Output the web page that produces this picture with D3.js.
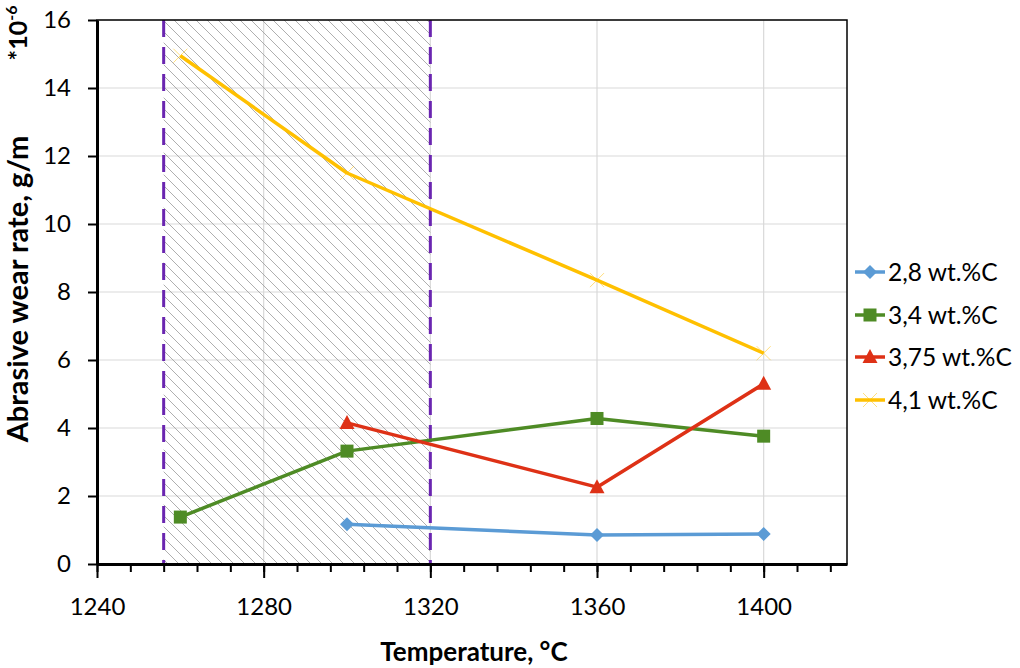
<!DOCTYPE html>
<html>
<head>
<meta charset="utf-8">
<script src="https://cdn.jsdelivr.net/npm/d3@7"></script>
<style>
  body { margin: 0; background: #fff; }
  svg { display: block; font-family: Lato, "Open Sans", sans-serif; }
</style>
</head>
<body>
<div id="chart"></div>
<script>
const SERIES_NAMES = ['2,8 wt.%C', '3,4 wt.%C', '3,75 wt.%C', '4,1 wt.%C'];
const SERIES_COLORS = ['#5B9BD5', '#4E8B25', '#DE3116', '#FFC000'];
const SERIES_MARKERS = ['diamond', 'square', 'triangle', 'cross'];

const temps_28 = [1300, 1360, 1400];
const wear_28 = [1.17, 0.85, 0.88];
const temps_34 = [1260, 1300, 1360, 1400];
const wear_34 = [1.38, 3.32, 4.28, 3.76];
const temps_375 = [1300, 1360, 1400];
const wear_375 = [4.15, 2.26, 5.3];
const temps_41 = [1260, 1300, 1360, 1400];
const wear_41 = [14.95, 11.5, 8.35, 6.2];

const X_TICKS = [1240, 1280, 1320, 1360, 1400];
const Y_TICKS = [0, 2, 4, 6, 8, 10, 12, 14, 16];
const ZONE = [1256, 1320];

const width = 1020;
const height = 668;
const margin = { top: 20, right: 173, bottom: 104, left: 97 };

const seriesData = [
  temps_28.map((t, i) => ({ t, v: wear_28[i] })),
  temps_34.map((t, i) => ({ t, v: wear_34[i] })),
  temps_375.map((t, i) => ({ t, v: wear_375[i] })),
  temps_41.map((t, i) => ({ t, v: wear_41[i] })),
];

const svg = d3.select('#chart').append('svg')
  .attr('width', width).attr('height', height);

const x = d3.scaleLinear().domain([1240, 1420]).range([margin.left, width - margin.right]);
const y = d3.scaleLinear().domain([0, 16]).range([height - margin.bottom, margin.top]);

const defs = svg.append('defs');
const pat = defs.append('pattern')
  .attr('id', 'hatch')
  .attr('patternUnits', 'userSpaceOnUse')
  .attr('width', 11).attr('height', 11);
pat.append('path')
  .attr('d', 'M-2,-2 L13,13 M-2,9 L2,13 M9,-2 L13,2')
  .attr('stroke', '#9a9a9a').attr('stroke-width', 0.8);

// gridlines
svg.append('g').selectAll('line').data(Y_TICKS.slice(1)).join('line')
  .attr('x1', x(1240)).attr('x2', x(1420))
  .attr('y1', (d) => y(d)).attr('y2', (d) => y(d))
  .attr('stroke', '#d9d9d9').attr('stroke-width', 1.2);
svg.append('g').selectAll('line').data(X_TICKS.slice(1)).join('line')
  .attr('x1', (d) => x(d)).attr('x2', (d) => x(d))
  .attr('y1', y(0)).attr('y2', y(16))
  .attr('stroke', '#d9d9d9').attr('stroke-width', 1.2);

// hatched zone
svg.append('rect')
  .attr('x', x(ZONE[0])).attr('y', y(16))
  .attr('width', x(ZONE[1]) - x(ZONE[0]))
  .attr('height', y(0) - y(16))
  .attr('fill', 'url(#hatch)');

ZONE.forEach((z) => {
  svg.append('line')
    .attr('x1', x(z)).attr('x2', x(z))
    .attr('y1', y(16)).attr('y2', y(0))
    .attr('stroke', '#6A25B0').attr('stroke-width', 3)
    .attr('stroke-dasharray', '17,10');
});

// frame
svg.append('rect')
  .attr('x', x(1240)).attr('y', y(16))
  .attr('width', x(1420) - x(1240)).attr('height', y(0) - y(16))
  .attr('fill', 'none').attr('stroke', '#000').attr('stroke-width', 1.5);

// axes
const xMinor = d3.range(1240, 1421, 8);
svg.append('g').attr('transform', `translate(0,${y(0)})`)
  .call(d3.axisBottom(x).tickValues(xMinor).tickSize(8).tickFormat(''))
  .call((g) => g.select('.domain').remove())
  .call((g) => g.selectAll('line').attr('stroke-width', 2));
const xAxis = svg.append('g').attr('transform', `translate(0,${y(0)})`)
  .call(d3.axisBottom(x).tickValues(X_TICKS).tickSize(14).tickPadding(20)
    .tickSizeOuter(0).tickFormat(d3.format('d')));
xAxis.select('.domain').attr('stroke-width', 3);
xAxis.selectAll('line').attr('stroke-width', 2);
xAxis.selectAll('text').attr('font-size', 24).attr('fill', '#000').attr('font-family', 'Lato, sans-serif');

const yAxis = svg.append('g').attr('transform', `translate(${x(1240)},0)`)
  .call(d3.axisLeft(y).tickValues(Y_TICKS).tickSize(9).tickPadding(17).tickSizeOuter(0));
yAxis.select('.domain').attr('stroke-width', 3);
yAxis.selectAll('line').attr('stroke-width', 2);
yAxis.selectAll('text').attr('font-size', 24).attr('fill', '#000').attr('font-family', 'Lato, sans-serif');

// series
const line = d3.line().x((d) => x(d.t)).y((d) => y(d.v));

function marker(g, type, color, cx, cy) {
  if (type === 'diamond') {
    g.append('path').attr('d', `M${cx},${cy - 7}L${cx + 7},${cy}L${cx},${cy + 7}L${cx - 7},${cy}Z`)
      .attr('fill', color);
  } else if (type === 'square') {
    g.append('rect').attr('x', cx - 6.5).attr('y', cy - 6.5).attr('width', 13).attr('height', 13)
      .attr('fill', color);
  } else if (type === 'triangle') {
    g.append('path').attr('d', `M${cx},${cy - 8}L${cx + 7.5},${cy + 6}L${cx - 7.5},${cy + 6}Z`)
      .attr('fill', color);
  } else if (type === 'cross') {
    g.append('path').attr('d', `M${cx - 7},${cy - 7}L${cx + 7},${cy + 7}M${cx - 7},${cy + 7}L${cx + 7},${cy - 7}`)
      .attr('stroke', color).attr('stroke-width', 1).attr('opacity', 0.5);
  }
}

seriesData.forEach((data, i) => {
  const g = svg.append('g');
  g.append('path').datum(data).attr('d', line)
    .attr('fill', 'none').attr('stroke', SERIES_COLORS[i]).attr('stroke-width', 3.5)
    .attr('stroke-linejoin', 'round');
  data.forEach((d) => marker(g, SERIES_MARKERS[i], SERIES_COLORS[i], x(d.t), y(d.v)));
});

// legend
const legendY = [272, 315, 357, 400];
SERIES_NAMES.forEach((name, i) => {
  const g = svg.append('g');
  g.append('line').attr('x1', 855).attr('x2', 885)
    .attr('y1', legendY[i]).attr('y2', legendY[i])
    .attr('stroke', SERIES_COLORS[i]).attr('stroke-width', 3.5);
  marker(g, SERIES_MARKERS[i], SERIES_COLORS[i], 870, legendY[i]);
  g.append('text').attr('x', 888).attr('y', legendY[i]).attr('dy', '0.35em')
    .attr('font-size', 24.5).attr('fill', '#000').text(name);
});

// titles
svg.append('text')
  .attr('x', 474).attr('y', 661)
  .attr('text-anchor', 'middle').attr('font-size', 26).attr('font-weight', 700)
  .text('Temperature, °C');

svg.append('text')
  .attr('transform', 'translate(28,289) rotate(-90)')
  .attr('text-anchor', 'middle').attr('font-size', 29).attr('font-weight', 700)
  .text('Abrasive wear rate, g/m');

const sci = svg.append('text')
  .attr('transform', 'translate(27,33) rotate(-90)')
  .attr('text-anchor', 'middle').attr('font-size', 25).attr('font-weight', 700);
sci.append('tspan').text('*10');
sci.append('tspan').attr('font-size', 16).attr('dy', -10).text('-6');
</script>
</body>
</html>
